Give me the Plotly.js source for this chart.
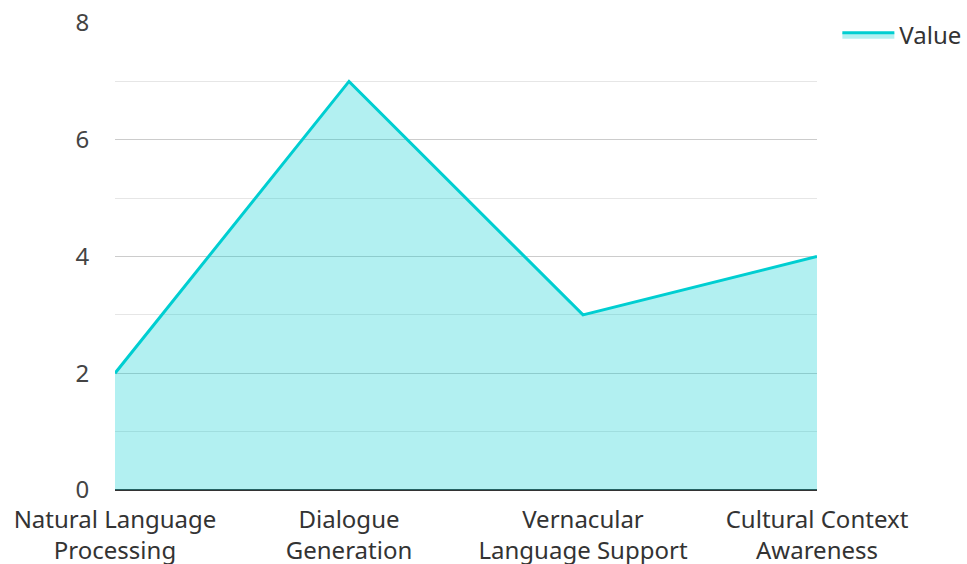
<!DOCTYPE html>
<html>
<head>
<meta charset="utf-8">
<script src="https://cdn.plot.ly/plotly-3.0.1.min.js"></script>
<style>html,body{margin:0;padding:0;background:#fff;}#chart{width:967px;height:564px;}</style>
</head>
<body>
<div id="chart"></div>
<script>
const categories = ["Natural Language<br>Processing", "Dialogue<br>Generation", "Vernacular<br>Language Support", "Cultural Context<br>Awareness"];
const values = [2, 7, 3, 4];
const seriesName = "Value";
const yTicks = [0, 2, 4, 6, 8];

const trace = {
  x: categories,
  y: values,
  name: seriesName,
  type: "scatter",
  mode: "lines",
  fill: "tozeroy",
  fillcolor: "rgba(0,206,209,0.3)",
  line: {color: "#00CED1", width: 3},
  hoverinfo: "x+y"
};

const layout = {
  width: 967,
  height: 564,
  margin: {l: 115, r: 150, t: 23, b: 74, autoexpand: false},
  paper_bgcolor: "#ffffff",
  plot_bgcolor: "#ffffff",
  font: {family: "Noto Sans, sans-serif", size: 24, color: "#444444"},
  showlegend: true,
  legend: {x: 1.029, y: 1.022, xanchor: "left", yanchor: "top",
           itemwidth: 52, font: {size: 24, color: "#333333"}},
  xaxis: {
    type: "category",
    range: [0, 3],
    automargin: false,
    showgrid: false,
    zeroline: false,
    showline: false,
    ticks: "outside",
    ticklen: 8,
    tickcolor: "rgba(0,0,0,0)",
    tickfont: {size: 24, color: "#333333"}
  },
  yaxis: {
    range: [0, 8],
    automargin: false,
    tickvals: yTicks,
    showgrid: true,
    gridcolor: "#cccccc",
    gridwidth: 1,
    zeroline: true,
    zerolinecolor: "#333333",
    zerolinewidth: 2,
    showline: false,
    ticks: "outside",
    ticklen: 20,
    tickcolor: "rgba(0,0,0,0)",
    tickfont: {size: 24, color: "#444444"},
    minor: {dtick: 1, showgrid: true, gridcolor: "#e6e6e6", gridwidth: 1, ticks: ""}
  }
};

Plotly.newPlot("chart", [trace], layout, {displayModeBar: false, staticPlot: true});
</script>
</body>
</html>
